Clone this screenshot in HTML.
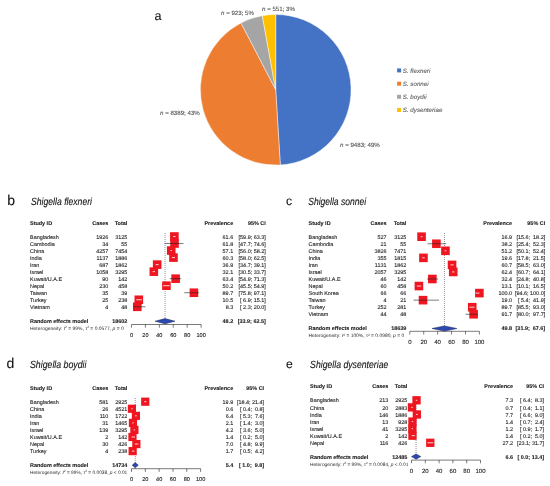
<!DOCTYPE html>
<html><head><meta charset="utf-8"><title>Shigella species prevalence</title>
<style>
html,body{margin:0;padding:0;background:#fff;}
svg{display:block;font-family:"Liberation Sans",sans-serif;text-rendering:geometricPrecision;}
</style></head><body>
<svg width="550" height="486" viewBox="0 0 550 486">
<rect width="550" height="486" fill="#fff"/>
<path d="M275.7 89.8L275.70 14.50A75.3 75.3 0 0 1 280.34 164.96Z" fill="#4472c4" stroke="#fff" stroke-width="0.45" stroke-linejoin="round"/>
<path d="M275.7 89.8L280.34 164.96A75.3 75.3 0 0 1 241.01 22.97Z" fill="#ed7d31" stroke="#fff" stroke-width="0.45" stroke-linejoin="round"/>
<path d="M275.7 89.8L241.01 22.97A75.3 75.3 0 0 1 262.30 15.70Z" fill="#a5a5a5" stroke="#fff" stroke-width="0.45" stroke-linejoin="round"/>
<path d="M275.7 89.8L262.30 15.70A75.3 75.3 0 0 1 275.70 14.50Z" fill="#ffc000" stroke="#fff" stroke-width="0.45" stroke-linejoin="round"/>
<text x="154.40" y="20.40" font-size="12.6" text-anchor="start" font-weight="normal" font-style="normal" fill="#111" stroke="#111" stroke-width="0.1">a</text>
<text x="340" y="147" font-size="6.15" fill="#505050" stroke="#505050" stroke-width="0.1"><tspan font-style="italic">n</tspan> = 9483; 49%</text>
<text x="160" y="115.4" font-size="6.15" fill="#505050" stroke="#505050" stroke-width="0.1"><tspan font-style="italic">n</tspan> = 8389; 43%</text>
<text x="221" y="15" font-size="6.15" fill="#505050" stroke="#505050" stroke-width="0.1"><tspan font-style="italic">n</tspan> = 923; 5%</text>
<text x="262" y="10.6" font-size="6.15" fill="#505050" stroke="#505050" stroke-width="0.1"><tspan font-style="italic">n</tspan> = 551; 3%</text>
<rect x="397.1" y="68.4" width="4" height="4" fill="#4472c4"/>
<text x="402.80" y="72.50" font-size="6.2" text-anchor="start" font-weight="normal" font-style="italic" fill="#606060" stroke="#606060" stroke-width="0.1">S. flexneri</text>
<rect x="397.1" y="81.7" width="4" height="4" fill="#ed7d31"/>
<text x="402.80" y="85.80" font-size="6.2" text-anchor="start" font-weight="normal" font-style="italic" fill="#606060" stroke="#606060" stroke-width="0.1">S. sonnei</text>
<rect x="397.1" y="94.8" width="4" height="4" fill="#a5a5a5"/>
<text x="402.80" y="98.90" font-size="6.2" text-anchor="start" font-weight="normal" font-style="italic" fill="#606060" stroke="#606060" stroke-width="0.1">S. boydii</text>
<rect x="397.1" y="108" width="4" height="4" fill="#ffc000"/>
<text x="402.80" y="112.10" font-size="6.2" text-anchor="start" font-weight="normal" font-style="italic" fill="#606060" stroke="#606060" stroke-width="0.1">S. dysenteriae</text>
<text x="7.30" y="205.10" font-size="14" text-anchor="start" font-weight="normal" font-style="normal" fill="#111" stroke="#111" stroke-width="0.1">b</text>
<text x="31.00" y="205.10" font-size="10.4" text-anchor="start" font-weight="normal" font-style="italic" fill="#111" stroke="#111" stroke-width="0.1" textLength="61" lengthAdjust="spacingAndGlyphs">Shigella flexneri</text>
<text x="30.00" y="224.96" font-size="5.45" text-anchor="start" font-weight="bold" font-style="normal" fill="#222" stroke="#222" stroke-width="0.1">Study ID</text>
<text x="108.30" y="224.96" font-size="5.45" text-anchor="end" font-weight="bold" font-style="normal" fill="#222" stroke="#222" stroke-width="0.1">Cases</text>
<text x="127.30" y="224.96" font-size="5.45" text-anchor="end" font-weight="bold" font-style="normal" fill="#222" stroke="#222" stroke-width="0.1">Total</text>
<text x="233.20" y="224.96" font-size="5.45" text-anchor="end" font-weight="bold" font-style="normal" fill="#222" stroke="#222" stroke-width="0.1">Prevalence</text>
<text x="265.80" y="224.96" font-size="5.45" text-anchor="end" font-weight="bold" font-style="normal" fill="#222" stroke="#222" stroke-width="0.1">95% CI</text>
<line x1="165.05" y1="233.00" x2="165.05" y2="324.50" stroke="#666" stroke-width="0.7" stroke-dasharray="1 1"/>
<text x="30.00" y="238.86" font-size="5.45" text-anchor="start" font-weight="normal" font-style="normal" fill="#222" stroke="#222" stroke-width="0.1">Bangladesh</text>
<text x="108.30" y="238.86" font-size="5.45" text-anchor="end" font-weight="normal" font-style="normal" fill="#222" stroke="#222" stroke-width="0.1">1926</text>
<text x="127.30" y="238.86" font-size="5.45" text-anchor="end" font-weight="normal" font-style="normal" fill="#222" stroke="#222" stroke-width="0.1">3125</text>
<text x="233.20" y="238.86" font-size="5.45" text-anchor="end" font-weight="normal" font-style="normal" fill="#222" stroke="#222" stroke-width="0.1">61.6</text>
<text x="265.80" y="238.86" font-size="5.45" text-anchor="end" font-weight="normal" font-style="normal" fill="#222" stroke="#222" stroke-width="0.1" xml:space="preserve">[59.9; 63.3]</text>
<rect x="170.07" y="232.20" width="8.6" height="8.6" fill="#ee1620"/>
<line x1="173.19" y1="236.50" x2="175.56" y2="236.50" stroke="#fff" stroke-width="0.8"/>
<text x="30.00" y="245.89" font-size="5.45" text-anchor="start" font-weight="normal" font-style="normal" fill="#222" stroke="#222" stroke-width="0.1">Cambodia</text>
<text x="108.30" y="245.89" font-size="5.45" text-anchor="end" font-weight="normal" font-style="normal" fill="#222" stroke="#222" stroke-width="0.1">34</text>
<text x="127.30" y="245.89" font-size="5.45" text-anchor="end" font-weight="normal" font-style="normal" fill="#222" stroke="#222" stroke-width="0.1">55</text>
<text x="233.20" y="245.89" font-size="5.45" text-anchor="end" font-weight="normal" font-style="normal" fill="#222" stroke="#222" stroke-width="0.1">61.8</text>
<text x="265.80" y="245.89" font-size="5.45" text-anchor="end" font-weight="normal" font-style="normal" fill="#222" stroke="#222" stroke-width="0.1" xml:space="preserve">[47.7; 74.6]</text>
<rect x="170.21" y="239.23" width="8.6" height="8.6" fill="#ee1620"/>
<line x1="164.70" y1="243.53" x2="183.42" y2="243.53" stroke="#222" stroke-width="0.6"/>
<text x="30.00" y="252.92" font-size="5.45" text-anchor="start" font-weight="normal" font-style="normal" fill="#222" stroke="#222" stroke-width="0.1">China</text>
<text x="108.30" y="252.92" font-size="5.45" text-anchor="end" font-weight="normal" font-style="normal" fill="#222" stroke="#222" stroke-width="0.1">4257</text>
<text x="127.30" y="252.92" font-size="5.45" text-anchor="end" font-weight="normal" font-style="normal" fill="#222" stroke="#222" stroke-width="0.1">7454</text>
<text x="233.20" y="252.92" font-size="5.45" text-anchor="end" font-weight="normal" font-style="normal" fill="#222" stroke="#222" stroke-width="0.1">57.1</text>
<text x="265.80" y="252.92" font-size="5.45" text-anchor="end" font-weight="normal" font-style="normal" fill="#222" stroke="#222" stroke-width="0.1" xml:space="preserve">[56.0; 58.2]</text>
<rect x="166.94" y="246.26" width="8.6" height="8.6" fill="#ee1620"/>
<line x1="170.48" y1="250.56" x2="172.01" y2="250.56" stroke="#fff" stroke-width="0.8"/>
<text x="30.00" y="259.95" font-size="5.45" text-anchor="start" font-weight="normal" font-style="normal" fill="#222" stroke="#222" stroke-width="0.1">India</text>
<text x="108.30" y="259.95" font-size="5.45" text-anchor="end" font-weight="normal" font-style="normal" fill="#222" stroke="#222" stroke-width="0.1">1137</text>
<text x="127.30" y="259.95" font-size="5.45" text-anchor="end" font-weight="normal" font-style="normal" fill="#222" stroke="#222" stroke-width="0.1">1886</text>
<text x="233.20" y="259.95" font-size="5.45" text-anchor="end" font-weight="normal" font-style="normal" fill="#222" stroke="#222" stroke-width="0.1">60.3</text>
<text x="265.80" y="259.95" font-size="5.45" text-anchor="end" font-weight="normal" font-style="normal" fill="#222" stroke="#222" stroke-width="0.1" xml:space="preserve">[58.0; 62.5]</text>
<rect x="169.17" y="253.29" width="8.6" height="8.6" fill="#ee1620"/>
<line x1="171.87" y1="257.59" x2="175.00" y2="257.59" stroke="#fff" stroke-width="0.8"/>
<text x="30.00" y="266.98" font-size="5.45" text-anchor="start" font-weight="normal" font-style="normal" fill="#222" stroke="#222" stroke-width="0.1">Iran</text>
<text x="108.30" y="266.98" font-size="5.45" text-anchor="end" font-weight="normal" font-style="normal" fill="#222" stroke="#222" stroke-width="0.1">687</text>
<text x="127.30" y="266.98" font-size="5.45" text-anchor="end" font-weight="normal" font-style="normal" fill="#222" stroke="#222" stroke-width="0.1">1862</text>
<text x="233.20" y="266.98" font-size="5.45" text-anchor="end" font-weight="normal" font-style="normal" fill="#222" stroke="#222" stroke-width="0.1">36.9</text>
<text x="265.80" y="266.98" font-size="5.45" text-anchor="end" font-weight="normal" font-style="normal" fill="#222" stroke="#222" stroke-width="0.1" xml:space="preserve">[34.7; 39.1]</text>
<rect x="152.88" y="260.32" width="8.6" height="8.6" fill="#ee1620"/>
<line x1="155.65" y1="264.62" x2="158.71" y2="264.62" stroke="#fff" stroke-width="0.8"/>
<text x="30.00" y="274.01" font-size="5.45" text-anchor="start" font-weight="normal" font-style="normal" fill="#222" stroke="#222" stroke-width="0.1">Israel</text>
<text x="108.30" y="274.01" font-size="5.45" text-anchor="end" font-weight="normal" font-style="normal" fill="#222" stroke="#222" stroke-width="0.1">1058</text>
<text x="127.30" y="274.01" font-size="5.45" text-anchor="end" font-weight="normal" font-style="normal" fill="#222" stroke="#222" stroke-width="0.1">3295</text>
<text x="233.20" y="274.01" font-size="5.45" text-anchor="end" font-weight="normal" font-style="normal" fill="#222" stroke="#222" stroke-width="0.1">32.1</text>
<text x="265.80" y="274.01" font-size="5.45" text-anchor="end" font-weight="normal" font-style="normal" fill="#222" stroke="#222" stroke-width="0.1" xml:space="preserve">[30.5; 33.7]</text>
<rect x="149.54" y="267.35" width="8.6" height="8.6" fill="#ee1620"/>
<line x1="152.73" y1="271.65" x2="154.96" y2="271.65" stroke="#fff" stroke-width="0.8"/>
<text x="30.00" y="281.04" font-size="5.45" text-anchor="start" font-weight="normal" font-style="normal" fill="#222" stroke="#222" stroke-width="0.1">Kuwait/U.A.E</text>
<text x="108.30" y="281.04" font-size="5.45" text-anchor="end" font-weight="normal" font-style="normal" fill="#222" stroke="#222" stroke-width="0.1">90</text>
<text x="127.30" y="281.04" font-size="5.45" text-anchor="end" font-weight="normal" font-style="normal" fill="#222" stroke="#222" stroke-width="0.1">142</text>
<text x="233.20" y="281.04" font-size="5.45" text-anchor="end" font-weight="normal" font-style="normal" fill="#222" stroke="#222" stroke-width="0.1">63.4</text>
<text x="265.80" y="281.04" font-size="5.45" text-anchor="end" font-weight="normal" font-style="normal" fill="#222" stroke="#222" stroke-width="0.1" xml:space="preserve">[54.9; 71.3]</text>
<rect x="171.33" y="274.38" width="8.6" height="8.6" fill="#ee1620"/>
<line x1="169.71" y1="278.68" x2="181.12" y2="278.68" stroke="#222" stroke-width="0.6"/>
<text x="30.00" y="288.07" font-size="5.45" text-anchor="start" font-weight="normal" font-style="normal" fill="#222" stroke="#222" stroke-width="0.1">Nepal</text>
<text x="108.30" y="288.07" font-size="5.45" text-anchor="end" font-weight="normal" font-style="normal" fill="#222" stroke="#222" stroke-width="0.1">230</text>
<text x="127.30" y="288.07" font-size="5.45" text-anchor="end" font-weight="normal" font-style="normal" fill="#222" stroke="#222" stroke-width="0.1">458</text>
<text x="233.20" y="288.07" font-size="5.45" text-anchor="end" font-weight="normal" font-style="normal" fill="#222" stroke="#222" stroke-width="0.1">50.2</text>
<text x="265.80" y="288.07" font-size="5.45" text-anchor="end" font-weight="normal" font-style="normal" fill="#222" stroke="#222" stroke-width="0.1" xml:space="preserve">[45.5; 54.9]</text>
<rect x="162.14" y="281.41" width="8.6" height="8.6" fill="#ee1620"/>
<line x1="163.17" y1="285.71" x2="169.71" y2="285.71" stroke="#fff" stroke-width="0.8"/>
<text x="30.00" y="295.10" font-size="5.45" text-anchor="start" font-weight="normal" font-style="normal" fill="#222" stroke="#222" stroke-width="0.1">Taiwan</text>
<text x="108.30" y="295.10" font-size="5.45" text-anchor="end" font-weight="normal" font-style="normal" fill="#222" stroke="#222" stroke-width="0.1">35</text>
<text x="127.30" y="295.10" font-size="5.45" text-anchor="end" font-weight="normal" font-style="normal" fill="#222" stroke="#222" stroke-width="0.1">39</text>
<text x="233.20" y="295.10" font-size="5.45" text-anchor="end" font-weight="normal" font-style="normal" fill="#222" stroke="#222" stroke-width="0.1">89.7</text>
<text x="265.80" y="295.10" font-size="5.45" text-anchor="end" font-weight="normal" font-style="normal" fill="#222" stroke="#222" stroke-width="0.1" xml:space="preserve">[75.8; 97.1]</text>
<rect x="189.63" y="288.44" width="8.6" height="8.6" fill="#ee1620"/>
<line x1="184.26" y1="292.74" x2="199.08" y2="292.74" stroke="#222" stroke-width="0.6"/>
<text x="30.00" y="302.13" font-size="5.45" text-anchor="start" font-weight="normal" font-style="normal" fill="#222" stroke="#222" stroke-width="0.1">Turkey</text>
<text x="108.30" y="302.13" font-size="5.45" text-anchor="end" font-weight="normal" font-style="normal" fill="#222" stroke="#222" stroke-width="0.1">25</text>
<text x="127.30" y="302.13" font-size="5.45" text-anchor="end" font-weight="normal" font-style="normal" fill="#222" stroke="#222" stroke-width="0.1">238</text>
<text x="233.20" y="302.13" font-size="5.45" text-anchor="end" font-weight="normal" font-style="normal" fill="#222" stroke="#222" stroke-width="0.1">10.5</text>
<text x="265.80" y="302.13" font-size="5.45" text-anchor="end" font-weight="normal" font-style="normal" fill="#222" stroke="#222" stroke-width="0.1" xml:space="preserve">[ 6.9; 15.1]</text>
<rect x="134.51" y="295.47" width="8.6" height="8.6" fill="#ee1620"/>
<line x1="136.30" y1="299.77" x2="142.01" y2="299.77" stroke="#fff" stroke-width="0.8"/>
<text x="30.00" y="309.16" font-size="5.45" text-anchor="start" font-weight="normal" font-style="normal" fill="#222" stroke="#222" stroke-width="0.1">Vietnam</text>
<text x="108.30" y="309.16" font-size="5.45" text-anchor="end" font-weight="normal" font-style="normal" fill="#222" stroke="#222" stroke-width="0.1">4</text>
<text x="127.30" y="309.16" font-size="5.45" text-anchor="end" font-weight="normal" font-style="normal" fill="#222" stroke="#222" stroke-width="0.1">48</text>
<text x="233.20" y="309.16" font-size="5.45" text-anchor="end" font-weight="normal" font-style="normal" fill="#222" stroke="#222" stroke-width="0.1">8.3</text>
<text x="265.80" y="309.16" font-size="5.45" text-anchor="end" font-weight="normal" font-style="normal" fill="#222" stroke="#222" stroke-width="0.1" xml:space="preserve">[ 2.3; 20.0]</text>
<rect x="132.98" y="302.50" width="8.6" height="8.6" fill="#ee1620"/>
<line x1="133.10" y1="306.80" x2="145.42" y2="306.80" stroke="#222" stroke-width="0.6"/>
<polygon points="155.09,321.20 165.05,318.60 175.00,321.20 165.05,323.80" fill="#2b49ae" stroke="#16225c" stroke-width="0.5"/>
<text x="30.00" y="323.16" font-size="5.45" text-anchor="start" font-weight="bold" font-style="normal" fill="#222" stroke="#222" stroke-width="0.1">Random effects model</text>
<text x="127.30" y="323.16" font-size="5.45" text-anchor="end" font-weight="bold" font-style="normal" fill="#222" stroke="#222" stroke-width="0.1">18602</text>
<text x="233.20" y="323.16" font-size="5.45" text-anchor="end" font-weight="bold" font-style="normal" fill="#222" stroke="#222" stroke-width="0.1">48.2</text>
<text x="265.80" y="323.16" font-size="5.45" text-anchor="end" font-weight="bold" font-style="normal" fill="#222" stroke="#222" stroke-width="0.1" xml:space="preserve">[33.9; 62.5]</text>
<text x="30.00" y="329.96" font-size="4.9" fill="#2c2c2c" textLength="93.8" lengthAdjust="spacingAndGlyphs">Heterogeneity: <tspan font-style="italic">I</tspan><tspan font-size="3.2" dy="-1.6">2</tspan><tspan dy="1.6"> = 99%, τ</tspan><tspan font-size="3.2" dy="-1.6">2</tspan><tspan dy="1.6"> = 0.0577, </tspan><tspan font-style="italic">p</tspan> = 0</text>
<path d="M131.50 327.70V324.50H201.10V327.70" fill="none" stroke="#222" stroke-width="0.6"/>
<text x="131.50" y="337.02" font-size="5.6" text-anchor="middle" font-weight="normal" font-style="normal" fill="#222" stroke="#222" stroke-width="0.1">0</text>
<line x1="145.42" y1="324.50" x2="145.42" y2="327.70" stroke="#222" stroke-width="0.6"/>
<text x="145.42" y="337.02" font-size="5.6" text-anchor="middle" font-weight="normal" font-style="normal" fill="#222" stroke="#222" stroke-width="0.1">20</text>
<line x1="159.34" y1="324.50" x2="159.34" y2="327.70" stroke="#222" stroke-width="0.6"/>
<text x="159.34" y="337.02" font-size="5.6" text-anchor="middle" font-weight="normal" font-style="normal" fill="#222" stroke="#222" stroke-width="0.1">40</text>
<line x1="173.26" y1="324.50" x2="173.26" y2="327.70" stroke="#222" stroke-width="0.6"/>
<text x="173.26" y="337.02" font-size="5.6" text-anchor="middle" font-weight="normal" font-style="normal" fill="#222" stroke="#222" stroke-width="0.1">60</text>
<line x1="187.18" y1="324.50" x2="187.18" y2="327.70" stroke="#222" stroke-width="0.6"/>
<text x="187.18" y="337.02" font-size="5.6" text-anchor="middle" font-weight="normal" font-style="normal" fill="#222" stroke="#222" stroke-width="0.1">80</text>
<text x="201.10" y="337.02" font-size="5.6" text-anchor="middle" font-weight="normal" font-style="normal" fill="#222" stroke="#222" stroke-width="0.1">100</text>
<text x="286.00" y="205.10" font-size="12.2" text-anchor="start" font-weight="normal" font-style="normal" fill="#111" stroke="#111" stroke-width="0.1">c</text>
<text x="308.20" y="205.10" font-size="10.4" text-anchor="start" font-weight="normal" font-style="italic" fill="#111" stroke="#111" stroke-width="0.1" textLength="58" lengthAdjust="spacingAndGlyphs">Shigella sonnei</text>
<text x="308.50" y="224.96" font-size="5.45" text-anchor="start" font-weight="bold" font-style="normal" fill="#222" stroke="#222" stroke-width="0.1">Study ID</text>
<text x="386.50" y="224.96" font-size="5.45" text-anchor="end" font-weight="bold" font-style="normal" fill="#222" stroke="#222" stroke-width="0.1">Cases</text>
<text x="406.30" y="224.96" font-size="5.45" text-anchor="end" font-weight="bold" font-style="normal" fill="#222" stroke="#222" stroke-width="0.1">Total</text>
<text x="512.00" y="224.96" font-size="5.45" text-anchor="end" font-weight="bold" font-style="normal" fill="#222" stroke="#222" stroke-width="0.1">Prevalence</text>
<text x="545.20" y="224.96" font-size="5.45" text-anchor="end" font-weight="bold" font-style="normal" fill="#222" stroke="#222" stroke-width="0.1">95% CI</text>
<line x1="444.46" y1="233.00" x2="444.46" y2="331.30" stroke="#666" stroke-width="0.7" stroke-dasharray="1 1"/>
<text x="308.50" y="238.86" font-size="5.45" text-anchor="start" font-weight="normal" font-style="normal" fill="#222" stroke="#222" stroke-width="0.1">Bangladesh</text>
<text x="386.50" y="238.86" font-size="5.45" text-anchor="end" font-weight="normal" font-style="normal" fill="#222" stroke="#222" stroke-width="0.1">527</text>
<text x="406.30" y="238.86" font-size="5.45" text-anchor="end" font-weight="normal" font-style="normal" fill="#222" stroke="#222" stroke-width="0.1">3125</text>
<text x="512.00" y="238.86" font-size="5.45" text-anchor="end" font-weight="normal" font-style="normal" fill="#222" stroke="#222" stroke-width="0.1">16.9</text>
<text x="545.20" y="238.86" font-size="5.45" text-anchor="end" font-weight="normal" font-style="normal" fill="#222" stroke="#222" stroke-width="0.1" xml:space="preserve">[15.6;  18.2]</text>
<rect x="417.26" y="232.40" width="8.6" height="8.6" fill="#ee1620"/>
<line x1="420.66" y1="236.70" x2="422.47" y2="236.70" stroke="#fff" stroke-width="0.8"/>
<text x="308.50" y="245.91" font-size="5.45" text-anchor="start" font-weight="normal" font-style="normal" fill="#222" stroke="#222" stroke-width="0.1">Cambodia</text>
<text x="386.50" y="245.91" font-size="5.45" text-anchor="end" font-weight="normal" font-style="normal" fill="#222" stroke="#222" stroke-width="0.1">21</text>
<text x="406.30" y="245.91" font-size="5.45" text-anchor="end" font-weight="normal" font-style="normal" fill="#222" stroke="#222" stroke-width="0.1">55</text>
<text x="512.00" y="245.91" font-size="5.45" text-anchor="end" font-weight="normal" font-style="normal" fill="#222" stroke="#222" stroke-width="0.1">38.2</text>
<text x="545.20" y="245.91" font-size="5.45" text-anchor="end" font-weight="normal" font-style="normal" fill="#222" stroke="#222" stroke-width="0.1" xml:space="preserve">[25.4;  52.3]</text>
<rect x="432.09" y="239.45" width="8.6" height="8.6" fill="#ee1620"/>
<line x1="427.48" y1="243.75" x2="446.20" y2="243.75" stroke="#222" stroke-width="0.6"/>
<text x="308.50" y="252.96" font-size="5.45" text-anchor="start" font-weight="normal" font-style="normal" fill="#222" stroke="#222" stroke-width="0.1">China</text>
<text x="386.50" y="252.96" font-size="5.45" text-anchor="end" font-weight="normal" font-style="normal" fill="#222" stroke="#222" stroke-width="0.1">3826</text>
<text x="406.30" y="252.96" font-size="5.45" text-anchor="end" font-weight="normal" font-style="normal" fill="#222" stroke="#222" stroke-width="0.1">7471</text>
<text x="512.00" y="252.96" font-size="5.45" text-anchor="end" font-weight="normal" font-style="normal" fill="#222" stroke="#222" stroke-width="0.1">51.2</text>
<text x="545.20" y="252.96" font-size="5.45" text-anchor="end" font-weight="normal" font-style="normal" fill="#222" stroke="#222" stroke-width="0.1" xml:space="preserve">[50.1;  52.4]</text>
<rect x="441.14" y="246.50" width="8.6" height="8.6" fill="#ee1620"/>
<line x1="444.67" y1="250.80" x2="446.27" y2="250.80" stroke="#fff" stroke-width="0.8"/>
<text x="308.50" y="260.01" font-size="5.45" text-anchor="start" font-weight="normal" font-style="normal" fill="#222" stroke="#222" stroke-width="0.1">India</text>
<text x="386.50" y="260.01" font-size="5.45" text-anchor="end" font-weight="normal" font-style="normal" fill="#222" stroke="#222" stroke-width="0.1">355</text>
<text x="406.30" y="260.01" font-size="5.45" text-anchor="end" font-weight="normal" font-style="normal" fill="#222" stroke="#222" stroke-width="0.1">1815</text>
<text x="512.00" y="260.01" font-size="5.45" text-anchor="end" font-weight="normal" font-style="normal" fill="#222" stroke="#222" stroke-width="0.1">19.6</text>
<text x="545.20" y="260.01" font-size="5.45" text-anchor="end" font-weight="normal" font-style="normal" fill="#222" stroke="#222" stroke-width="0.1" xml:space="preserve">[17.8;  21.5]</text>
<rect x="419.14" y="253.55" width="8.6" height="8.6" fill="#ee1620"/>
<line x1="422.19" y1="257.85" x2="424.76" y2="257.85" stroke="#fff" stroke-width="0.8"/>
<text x="308.50" y="267.06" font-size="5.45" text-anchor="start" font-weight="normal" font-style="normal" fill="#222" stroke="#222" stroke-width="0.1">Iran</text>
<text x="386.50" y="267.06" font-size="5.45" text-anchor="end" font-weight="normal" font-style="normal" fill="#222" stroke="#222" stroke-width="0.1">1131</text>
<text x="406.30" y="267.06" font-size="5.45" text-anchor="end" font-weight="normal" font-style="normal" fill="#222" stroke="#222" stroke-width="0.1">1862</text>
<text x="512.00" y="267.06" font-size="5.45" text-anchor="end" font-weight="normal" font-style="normal" fill="#222" stroke="#222" stroke-width="0.1">60.7</text>
<text x="545.20" y="267.06" font-size="5.45" text-anchor="end" font-weight="normal" font-style="normal" fill="#222" stroke="#222" stroke-width="0.1" xml:space="preserve">[58.5;  63.0]</text>
<rect x="447.75" y="260.60" width="8.6" height="8.6" fill="#ee1620"/>
<line x1="450.52" y1="264.90" x2="453.65" y2="264.90" stroke="#fff" stroke-width="0.8"/>
<text x="308.50" y="274.11" font-size="5.45" text-anchor="start" font-weight="normal" font-style="normal" fill="#222" stroke="#222" stroke-width="0.1">Israel</text>
<text x="386.50" y="274.11" font-size="5.45" text-anchor="end" font-weight="normal" font-style="normal" fill="#222" stroke="#222" stroke-width="0.1">2057</text>
<text x="406.30" y="274.11" font-size="5.45" text-anchor="end" font-weight="normal" font-style="normal" fill="#222" stroke="#222" stroke-width="0.1">3295</text>
<text x="512.00" y="274.11" font-size="5.45" text-anchor="end" font-weight="normal" font-style="normal" fill="#222" stroke="#222" stroke-width="0.1">62.4</text>
<text x="545.20" y="274.11" font-size="5.45" text-anchor="end" font-weight="normal" font-style="normal" fill="#222" stroke="#222" stroke-width="0.1" xml:space="preserve">[60.7;  64.1]</text>
<rect x="448.93" y="267.65" width="8.6" height="8.6" fill="#ee1620"/>
<line x1="452.05" y1="271.95" x2="454.41" y2="271.95" stroke="#fff" stroke-width="0.8"/>
<text x="308.50" y="281.16" font-size="5.45" text-anchor="start" font-weight="normal" font-style="normal" fill="#222" stroke="#222" stroke-width="0.1">Kuwait/U.A.E</text>
<text x="386.50" y="281.16" font-size="5.45" text-anchor="end" font-weight="normal" font-style="normal" fill="#222" stroke="#222" stroke-width="0.1">46</text>
<text x="406.30" y="281.16" font-size="5.45" text-anchor="end" font-weight="normal" font-style="normal" fill="#222" stroke="#222" stroke-width="0.1">142</text>
<text x="512.00" y="281.16" font-size="5.45" text-anchor="end" font-weight="normal" font-style="normal" fill="#222" stroke="#222" stroke-width="0.1">32.4</text>
<text x="545.20" y="281.16" font-size="5.45" text-anchor="end" font-weight="normal" font-style="normal" fill="#222" stroke="#222" stroke-width="0.1" xml:space="preserve">[24.8;  40.8]</text>
<rect x="428.05" y="274.70" width="8.6" height="8.6" fill="#ee1620"/>
<line x1="427.06" y1="279.00" x2="438.20" y2="279.00" stroke="#222" stroke-width="0.6"/>
<text x="308.50" y="288.21" font-size="5.45" text-anchor="start" font-weight="normal" font-style="normal" fill="#222" stroke="#222" stroke-width="0.1">Nepal</text>
<text x="386.50" y="288.21" font-size="5.45" text-anchor="end" font-weight="normal" font-style="normal" fill="#222" stroke="#222" stroke-width="0.1">60</text>
<text x="406.30" y="288.21" font-size="5.45" text-anchor="end" font-weight="normal" font-style="normal" fill="#222" stroke="#222" stroke-width="0.1">458</text>
<text x="512.00" y="288.21" font-size="5.45" text-anchor="end" font-weight="normal" font-style="normal" fill="#222" stroke="#222" stroke-width="0.1">13.1</text>
<text x="545.20" y="288.21" font-size="5.45" text-anchor="end" font-weight="normal" font-style="normal" fill="#222" stroke="#222" stroke-width="0.1" xml:space="preserve">[10.1;  16.5]</text>
<rect x="414.62" y="281.75" width="8.6" height="8.6" fill="#ee1620"/>
<line x1="416.83" y1="286.05" x2="421.28" y2="286.05" stroke="#fff" stroke-width="0.8"/>
<text x="308.50" y="295.26" font-size="5.45" text-anchor="start" font-weight="normal" font-style="normal" fill="#222" stroke="#222" stroke-width="0.1">South Korea</text>
<text x="386.50" y="295.26" font-size="5.45" text-anchor="end" font-weight="normal" font-style="normal" fill="#222" stroke="#222" stroke-width="0.1">66</text>
<text x="406.30" y="295.26" font-size="5.45" text-anchor="end" font-weight="normal" font-style="normal" fill="#222" stroke="#222" stroke-width="0.1">66</text>
<text x="512.00" y="295.26" font-size="5.45" text-anchor="end" font-weight="normal" font-style="normal" fill="#222" stroke="#222" stroke-width="0.1">100.0</text>
<text x="545.20" y="295.26" font-size="5.45" text-anchor="end" font-weight="normal" font-style="normal" fill="#222" stroke="#222" stroke-width="0.1" xml:space="preserve">[94.6; 100.0]</text>
<rect x="475.10" y="288.80" width="8.6" height="8.6" fill="#ee1620"/>
<line x1="475.64" y1="293.10" x2="479.40" y2="293.10" stroke="#fff" stroke-width="0.8"/>
<text x="308.50" y="302.31" font-size="5.45" text-anchor="start" font-weight="normal" font-style="normal" fill="#222" stroke="#222" stroke-width="0.1">Taiwan</text>
<text x="386.50" y="302.31" font-size="5.45" text-anchor="end" font-weight="normal" font-style="normal" fill="#222" stroke="#222" stroke-width="0.1">4</text>
<text x="406.30" y="302.31" font-size="5.45" text-anchor="end" font-weight="normal" font-style="normal" fill="#222" stroke="#222" stroke-width="0.1">21</text>
<text x="512.00" y="302.31" font-size="5.45" text-anchor="end" font-weight="normal" font-style="normal" fill="#222" stroke="#222" stroke-width="0.1">19.0</text>
<text x="545.20" y="302.31" font-size="5.45" text-anchor="end" font-weight="normal" font-style="normal" fill="#222" stroke="#222" stroke-width="0.1" xml:space="preserve">[ 5.4;  41.9]</text>
<rect x="418.72" y="295.85" width="8.6" height="8.6" fill="#ee1620"/>
<line x1="413.56" y1="300.15" x2="438.96" y2="300.15" stroke="#222" stroke-width="0.6"/>
<text x="308.50" y="309.36" font-size="5.45" text-anchor="start" font-weight="normal" font-style="normal" fill="#222" stroke="#222" stroke-width="0.1">Turkey</text>
<text x="386.50" y="309.36" font-size="5.45" text-anchor="end" font-weight="normal" font-style="normal" fill="#222" stroke="#222" stroke-width="0.1">252</text>
<text x="406.30" y="309.36" font-size="5.45" text-anchor="end" font-weight="normal" font-style="normal" fill="#222" stroke="#222" stroke-width="0.1">281</text>
<text x="512.00" y="309.36" font-size="5.45" text-anchor="end" font-weight="normal" font-style="normal" fill="#222" stroke="#222" stroke-width="0.1">89.7</text>
<text x="545.20" y="309.36" font-size="5.45" text-anchor="end" font-weight="normal" font-style="normal" fill="#222" stroke="#222" stroke-width="0.1" xml:space="preserve">[85.5;  93.0]</text>
<rect x="467.93" y="302.90" width="8.6" height="8.6" fill="#ee1620"/>
<line x1="469.31" y1="307.20" x2="474.53" y2="307.20" stroke="#fff" stroke-width="0.8"/>
<text x="308.50" y="316.41" font-size="5.45" text-anchor="start" font-weight="normal" font-style="normal" fill="#222" stroke="#222" stroke-width="0.1">Vietnam</text>
<text x="386.50" y="316.41" font-size="5.45" text-anchor="end" font-weight="normal" font-style="normal" fill="#222" stroke="#222" stroke-width="0.1">44</text>
<text x="406.30" y="316.41" font-size="5.45" text-anchor="end" font-weight="normal" font-style="normal" fill="#222" stroke="#222" stroke-width="0.1">48</text>
<text x="512.00" y="316.41" font-size="5.45" text-anchor="end" font-weight="normal" font-style="normal" fill="#222" stroke="#222" stroke-width="0.1">91.7</text>
<text x="545.20" y="316.41" font-size="5.45" text-anchor="end" font-weight="normal" font-style="normal" fill="#222" stroke="#222" stroke-width="0.1" xml:space="preserve">[80.0;  97.7]</text>
<rect x="469.32" y="309.95" width="8.6" height="8.6" fill="#ee1620"/>
<line x1="465.48" y1="314.25" x2="477.80" y2="314.25" stroke="#222" stroke-width="0.6"/>
<polygon points="432.00,328.50 444.46,325.90 456.85,328.50 444.46,331.10" fill="#2b49ae" stroke="#16225c" stroke-width="0.5"/>
<text x="308.50" y="330.46" font-size="5.45" text-anchor="start" font-weight="bold" font-style="normal" fill="#222" stroke="#222" stroke-width="0.1">Random effects model</text>
<text x="406.30" y="330.46" font-size="5.45" text-anchor="end" font-weight="bold" font-style="normal" fill="#222" stroke="#222" stroke-width="0.1">18639</text>
<text x="512.00" y="330.46" font-size="5.45" text-anchor="end" font-weight="bold" font-style="normal" fill="#222" stroke="#222" stroke-width="0.1">49.8</text>
<text x="545.20" y="330.46" font-size="5.45" text-anchor="end" font-weight="bold" font-style="normal" fill="#222" stroke="#222" stroke-width="0.1" xml:space="preserve">[31.9;  67.6]</text>
<text x="308.50" y="337.16" font-size="4.9" fill="#2c2c2c" textLength="95.7" lengthAdjust="spacingAndGlyphs">Heterogeneity: <tspan font-style="italic">I</tspan><tspan font-size="3.2" dy="-1.6">2</tspan><tspan dy="1.6"> = 100%, τ</tspan><tspan font-size="3.2" dy="-1.6">2</tspan><tspan dy="1.6"> = 0.0980, </tspan><tspan font-style="italic">p</tspan> = 0</text>
<path d="M409.80 334.50V331.30H479.40V334.50" fill="none" stroke="#222" stroke-width="0.6"/>
<text x="409.80" y="344.16" font-size="6.0" text-anchor="middle" font-weight="normal" font-style="normal" fill="#222" stroke="#222" stroke-width="0.1">0</text>
<line x1="423.72" y1="331.30" x2="423.72" y2="334.50" stroke="#222" stroke-width="0.6"/>
<text x="423.72" y="344.16" font-size="6.0" text-anchor="middle" font-weight="normal" font-style="normal" fill="#222" stroke="#222" stroke-width="0.1">20</text>
<line x1="437.64" y1="331.30" x2="437.64" y2="334.50" stroke="#222" stroke-width="0.6"/>
<text x="437.64" y="344.16" font-size="6.0" text-anchor="middle" font-weight="normal" font-style="normal" fill="#222" stroke="#222" stroke-width="0.1">40</text>
<line x1="451.56" y1="331.30" x2="451.56" y2="334.50" stroke="#222" stroke-width="0.6"/>
<text x="451.56" y="344.16" font-size="6.0" text-anchor="middle" font-weight="normal" font-style="normal" fill="#222" stroke="#222" stroke-width="0.1">60</text>
<line x1="465.48" y1="331.30" x2="465.48" y2="334.50" stroke="#222" stroke-width="0.6"/>
<text x="465.48" y="344.16" font-size="6.0" text-anchor="middle" font-weight="normal" font-style="normal" fill="#222" stroke="#222" stroke-width="0.1">80</text>
<text x="479.40" y="344.16" font-size="6.0" text-anchor="middle" font-weight="normal" font-style="normal" fill="#222" stroke="#222" stroke-width="0.1">100</text>
<text x="6.60" y="368.00" font-size="14" text-anchor="start" font-weight="normal" font-style="normal" fill="#111" stroke="#111" stroke-width="0.1">d</text>
<text x="30.00" y="368.00" font-size="10.4" text-anchor="start" font-weight="normal" font-style="italic" fill="#111" stroke="#111" stroke-width="0.1" textLength="56.5" lengthAdjust="spacingAndGlyphs">Shigella boydii</text>
<text x="30.00" y="389.76" font-size="5.45" text-anchor="start" font-weight="bold" font-style="normal" fill="#222" stroke="#222" stroke-width="0.1">Study ID</text>
<text x="108.30" y="389.76" font-size="5.45" text-anchor="end" font-weight="bold" font-style="normal" fill="#222" stroke="#222" stroke-width="0.1">Cases</text>
<text x="127.30" y="389.76" font-size="5.45" text-anchor="end" font-weight="bold" font-style="normal" fill="#222" stroke="#222" stroke-width="0.1">Total</text>
<text x="233.20" y="389.76" font-size="5.45" text-anchor="end" font-weight="bold" font-style="normal" fill="#222" stroke="#222" stroke-width="0.1">Prevalence</text>
<text x="264.10" y="389.76" font-size="5.45" text-anchor="end" font-weight="bold" font-style="normal" fill="#222" stroke="#222" stroke-width="0.1">95% CI</text>
<line x1="135.23" y1="398.00" x2="135.23" y2="468.70" stroke="#666" stroke-width="0.7" stroke-dasharray="1 1"/>
<text x="30.00" y="403.76" font-size="5.45" text-anchor="start" font-weight="normal" font-style="normal" fill="#222" stroke="#222" stroke-width="0.1">Bangladesh</text>
<text x="108.30" y="403.76" font-size="5.45" text-anchor="end" font-weight="normal" font-style="normal" fill="#222" stroke="#222" stroke-width="0.1">581</text>
<text x="127.30" y="403.76" font-size="5.45" text-anchor="end" font-weight="normal" font-style="normal" fill="#222" stroke="#222" stroke-width="0.1">2925</text>
<text x="233.20" y="403.76" font-size="5.45" text-anchor="end" font-weight="normal" font-style="normal" fill="#222" stroke="#222" stroke-width="0.1">19.9</text>
<text x="264.10" y="403.76" font-size="5.45" text-anchor="end" font-weight="normal" font-style="normal" fill="#222" stroke="#222" stroke-width="0.1" xml:space="preserve">[18.4; 21.4]</text>
<rect x="141.15" y="397.60" width="8.2" height="8.2" fill="#ee1620"/>
<line x1="144.21" y1="401.70" x2="146.29" y2="401.70" stroke="#fff" stroke-width="0.8"/>
<text x="30.00" y="410.82" font-size="5.45" text-anchor="start" font-weight="normal" font-style="normal" fill="#222" stroke="#222" stroke-width="0.1">China</text>
<text x="108.30" y="410.82" font-size="5.45" text-anchor="end" font-weight="normal" font-style="normal" fill="#222" stroke="#222" stroke-width="0.1">26</text>
<text x="127.30" y="410.82" font-size="5.45" text-anchor="end" font-weight="normal" font-style="normal" fill="#222" stroke="#222" stroke-width="0.1">4521</text>
<text x="233.20" y="410.82" font-size="5.45" text-anchor="end" font-weight="normal" font-style="normal" fill="#222" stroke="#222" stroke-width="0.1">0.6</text>
<text x="264.10" y="410.82" font-size="5.45" text-anchor="end" font-weight="normal" font-style="normal" fill="#222" stroke="#222" stroke-width="0.1" xml:space="preserve">[ 0.4;  0.8]</text>
<rect x="127.81" y="404.66" width="8.2" height="8.2" fill="#ee1620"/>
<line x1="131.21" y1="408.76" x2="132.61" y2="408.76" stroke="#fff" stroke-width="0.8"/>
<text x="30.00" y="417.88" font-size="5.45" text-anchor="start" font-weight="normal" font-style="normal" fill="#222" stroke="#222" stroke-width="0.1">India</text>
<text x="108.30" y="417.88" font-size="5.45" text-anchor="end" font-weight="normal" font-style="normal" fill="#222" stroke="#222" stroke-width="0.1">110</text>
<text x="127.30" y="417.88" font-size="5.45" text-anchor="end" font-weight="normal" font-style="normal" fill="#222" stroke="#222" stroke-width="0.1">1722</text>
<text x="233.20" y="417.88" font-size="5.45" text-anchor="end" font-weight="normal" font-style="normal" fill="#222" stroke="#222" stroke-width="0.1">6.4</text>
<text x="264.10" y="417.88" font-size="5.45" text-anchor="end" font-weight="normal" font-style="normal" fill="#222" stroke="#222" stroke-width="0.1" xml:space="preserve">[ 5.3;  7.6]</text>
<rect x="131.82" y="411.72" width="8.2" height="8.2" fill="#ee1620"/>
<line x1="135.16" y1="415.82" x2="136.75" y2="415.82" stroke="#fff" stroke-width="0.8"/>
<text x="30.00" y="424.94" font-size="5.45" text-anchor="start" font-weight="normal" font-style="normal" fill="#222" stroke="#222" stroke-width="0.1">Iran</text>
<text x="108.30" y="424.94" font-size="5.45" text-anchor="end" font-weight="normal" font-style="normal" fill="#222" stroke="#222" stroke-width="0.1">31</text>
<text x="127.30" y="424.94" font-size="5.45" text-anchor="end" font-weight="normal" font-style="normal" fill="#222" stroke="#222" stroke-width="0.1">1465</text>
<text x="233.20" y="424.94" font-size="5.45" text-anchor="end" font-weight="normal" font-style="normal" fill="#222" stroke="#222" stroke-width="0.1">2.1</text>
<text x="264.10" y="424.94" font-size="5.45" text-anchor="end" font-weight="normal" font-style="normal" fill="#222" stroke="#222" stroke-width="0.1" xml:space="preserve">[ 1.4;  3.0]</text>
<rect x="128.85" y="418.78" width="8.2" height="8.2" fill="#ee1620"/>
<line x1="132.25" y1="422.88" x2="133.65" y2="422.88" stroke="#fff" stroke-width="0.8"/>
<text x="30.00" y="432.00" font-size="5.45" text-anchor="start" font-weight="normal" font-style="normal" fill="#222" stroke="#222" stroke-width="0.1">Israel</text>
<text x="108.30" y="432.00" font-size="5.45" text-anchor="end" font-weight="normal" font-style="normal" fill="#222" stroke="#222" stroke-width="0.1">139</text>
<text x="127.30" y="432.00" font-size="5.45" text-anchor="end" font-weight="normal" font-style="normal" fill="#222" stroke="#222" stroke-width="0.1">3295</text>
<text x="233.20" y="432.00" font-size="5.45" text-anchor="end" font-weight="normal" font-style="normal" fill="#222" stroke="#222" stroke-width="0.1">4.2</text>
<text x="264.10" y="432.00" font-size="5.45" text-anchor="end" font-weight="normal" font-style="normal" fill="#222" stroke="#222" stroke-width="0.1" xml:space="preserve">[ 3.6;  5.0]</text>
<rect x="130.30" y="425.84" width="8.2" height="8.2" fill="#ee1620"/>
<line x1="133.70" y1="429.94" x2="135.10" y2="429.94" stroke="#fff" stroke-width="0.8"/>
<text x="30.00" y="439.06" font-size="5.45" text-anchor="start" font-weight="normal" font-style="normal" fill="#222" stroke="#222" stroke-width="0.1">Kuwait/U.A.E</text>
<text x="108.30" y="439.06" font-size="5.45" text-anchor="end" font-weight="normal" font-style="normal" fill="#222" stroke="#222" stroke-width="0.1">2</text>
<text x="127.30" y="439.06" font-size="5.45" text-anchor="end" font-weight="normal" font-style="normal" fill="#222" stroke="#222" stroke-width="0.1">142</text>
<text x="233.20" y="439.06" font-size="5.45" text-anchor="end" font-weight="normal" font-style="normal" fill="#222" stroke="#222" stroke-width="0.1">1.4</text>
<text x="264.10" y="439.06" font-size="5.45" text-anchor="end" font-weight="normal" font-style="normal" fill="#222" stroke="#222" stroke-width="0.1" xml:space="preserve">[ 0.2;  5.0]</text>
<rect x="128.37" y="432.90" width="8.2" height="8.2" fill="#ee1620"/>
<line x1="131.64" y1="437.00" x2="134.96" y2="437.00" stroke="#fff" stroke-width="0.8"/>
<text x="30.00" y="446.12" font-size="5.45" text-anchor="start" font-weight="normal" font-style="normal" fill="#222" stroke="#222" stroke-width="0.1">Nepal</text>
<text x="108.30" y="446.12" font-size="5.45" text-anchor="end" font-weight="normal" font-style="normal" fill="#222" stroke="#222" stroke-width="0.1">30</text>
<text x="127.30" y="446.12" font-size="5.45" text-anchor="end" font-weight="normal" font-style="normal" fill="#222" stroke="#222" stroke-width="0.1">426</text>
<text x="233.20" y="446.12" font-size="5.45" text-anchor="end" font-weight="normal" font-style="normal" fill="#222" stroke="#222" stroke-width="0.1">7.0</text>
<text x="264.10" y="446.12" font-size="5.45" text-anchor="end" font-weight="normal" font-style="normal" fill="#222" stroke="#222" stroke-width="0.1" xml:space="preserve">[ 4.8;  9.9]</text>
<rect x="132.24" y="439.96" width="8.2" height="8.2" fill="#ee1620"/>
<line x1="134.82" y1="444.06" x2="138.34" y2="444.06" stroke="#fff" stroke-width="0.8"/>
<text x="30.00" y="453.18" font-size="5.45" text-anchor="start" font-weight="normal" font-style="normal" fill="#222" stroke="#222" stroke-width="0.1">Turkey</text>
<text x="108.30" y="453.18" font-size="5.45" text-anchor="end" font-weight="normal" font-style="normal" fill="#222" stroke="#222" stroke-width="0.1">4</text>
<text x="127.30" y="453.18" font-size="5.45" text-anchor="end" font-weight="normal" font-style="normal" fill="#222" stroke="#222" stroke-width="0.1">238</text>
<text x="233.20" y="453.18" font-size="5.45" text-anchor="end" font-weight="normal" font-style="normal" fill="#222" stroke="#222" stroke-width="0.1">1.7</text>
<text x="264.10" y="453.18" font-size="5.45" text-anchor="end" font-weight="normal" font-style="normal" fill="#222" stroke="#222" stroke-width="0.1" xml:space="preserve">[ 0.5;  4.2]</text>
<rect x="128.57" y="447.02" width="8.2" height="8.2" fill="#ee1620"/>
<line x1="131.85" y1="451.12" x2="134.40" y2="451.12" stroke="#fff" stroke-width="0.8"/>
<polygon points="132.19,465.20 135.23,462.60 138.27,465.20 135.23,467.80" fill="#2b49ae" stroke="#16225c" stroke-width="0.5"/>
<text x="30.00" y="467.16" font-size="5.45" text-anchor="start" font-weight="bold" font-style="normal" fill="#222" stroke="#222" stroke-width="0.1">Random effects model</text>
<text x="127.30" y="467.16" font-size="5.45" text-anchor="end" font-weight="bold" font-style="normal" fill="#222" stroke="#222" stroke-width="0.1">14734</text>
<text x="233.20" y="467.16" font-size="5.45" text-anchor="end" font-weight="bold" font-style="normal" fill="#222" stroke="#222" stroke-width="0.1">5.4</text>
<text x="264.10" y="467.16" font-size="5.45" text-anchor="end" font-weight="bold" font-style="normal" fill="#222" stroke="#222" stroke-width="0.1" xml:space="preserve">[ 1.0;  9.8]</text>
<text x="30.00" y="474.06" font-size="4.9" fill="#2c2c2c" textLength="97.3" lengthAdjust="spacingAndGlyphs">Heterogeneity: <tspan font-style="italic">I</tspan><tspan font-size="3.2" dy="-1.6">2</tspan><tspan dy="1.6"> = 99%, τ</tspan><tspan font-size="3.2" dy="-1.6">2</tspan><tspan dy="1.6"> = 0.0038, </tspan><tspan font-style="italic">p</tspan> &lt; 0.01</text>
<path d="M131.50 471.90V468.70H200.60V471.90" fill="none" stroke="#222" stroke-width="0.6"/>
<text x="131.50" y="481.12" font-size="5.6" text-anchor="middle" font-weight="normal" font-style="normal" fill="#222" stroke="#222" stroke-width="0.1">0</text>
<line x1="145.32" y1="468.70" x2="145.32" y2="471.90" stroke="#222" stroke-width="0.6"/>
<text x="145.32" y="481.12" font-size="5.6" text-anchor="middle" font-weight="normal" font-style="normal" fill="#222" stroke="#222" stroke-width="0.1">20</text>
<line x1="159.14" y1="468.70" x2="159.14" y2="471.90" stroke="#222" stroke-width="0.6"/>
<text x="159.14" y="481.12" font-size="5.6" text-anchor="middle" font-weight="normal" font-style="normal" fill="#222" stroke="#222" stroke-width="0.1">40</text>
<line x1="172.96" y1="468.70" x2="172.96" y2="471.90" stroke="#222" stroke-width="0.6"/>
<text x="172.96" y="481.12" font-size="5.6" text-anchor="middle" font-weight="normal" font-style="normal" fill="#222" stroke="#222" stroke-width="0.1">60</text>
<line x1="186.78" y1="468.70" x2="186.78" y2="471.90" stroke="#222" stroke-width="0.6"/>
<text x="186.78" y="481.12" font-size="5.6" text-anchor="middle" font-weight="normal" font-style="normal" fill="#222" stroke="#222" stroke-width="0.1">80</text>
<text x="200.60" y="481.12" font-size="5.6" text-anchor="middle" font-weight="normal" font-style="normal" fill="#222" stroke="#222" stroke-width="0.1">100</text>
<text x="286.00" y="368.00" font-size="12.2" text-anchor="start" font-weight="normal" font-style="normal" fill="#111" stroke="#111" stroke-width="0.1">e</text>
<text x="310.10" y="368.00" font-size="10.4" text-anchor="start" font-weight="normal" font-style="italic" fill="#111" stroke="#111" stroke-width="0.1" textLength="78.2" lengthAdjust="spacingAndGlyphs">Shigella dysenteriae</text>
<text x="310.00" y="388.46" font-size="5.45" text-anchor="start" font-weight="bold" font-style="normal" fill="#222" stroke="#222" stroke-width="0.1">Study ID</text>
<text x="388.30" y="388.46" font-size="5.45" text-anchor="end" font-weight="bold" font-style="normal" fill="#222" stroke="#222" stroke-width="0.1">Cases</text>
<text x="407.30" y="388.46" font-size="5.45" text-anchor="end" font-weight="bold" font-style="normal" fill="#222" stroke="#222" stroke-width="0.1">Total</text>
<text x="513.10" y="388.46" font-size="5.45" text-anchor="end" font-weight="bold" font-style="normal" fill="#222" stroke="#222" stroke-width="0.1">Prevalence</text>
<text x="544.10" y="388.46" font-size="5.45" text-anchor="end" font-weight="bold" font-style="normal" fill="#222" stroke="#222" stroke-width="0.1">95% CI</text>
<line x1="416.05" y1="396.00" x2="416.05" y2="460.10" stroke="#666" stroke-width="0.7" stroke-dasharray="1 1"/>
<text x="310.00" y="402.46" font-size="5.45" text-anchor="start" font-weight="normal" font-style="normal" fill="#222" stroke="#222" stroke-width="0.1">Bangladesh</text>
<text x="388.30" y="402.46" font-size="5.45" text-anchor="end" font-weight="normal" font-style="normal" fill="#222" stroke="#222" stroke-width="0.1">213</text>
<text x="407.30" y="402.46" font-size="5.45" text-anchor="end" font-weight="normal" font-style="normal" fill="#222" stroke="#222" stroke-width="0.1">2925</text>
<text x="513.10" y="402.46" font-size="5.45" text-anchor="end" font-weight="normal" font-style="normal" fill="#222" stroke="#222" stroke-width="0.1">7.3</text>
<text x="544.10" y="402.46" font-size="5.45" text-anchor="end" font-weight="normal" font-style="normal" fill="#222" stroke="#222" stroke-width="0.1" xml:space="preserve">[ 6.4;  8.3]</text>
<rect x="412.39" y="396.15" width="8.3" height="8.3" fill="#ee1620"/>
<line x1="415.84" y1="400.30" x2="417.24" y2="400.30" stroke="#fff" stroke-width="0.8"/>
<text x="310.00" y="409.54" font-size="5.45" text-anchor="start" font-weight="normal" font-style="normal" fill="#222" stroke="#222" stroke-width="0.1">China</text>
<text x="388.30" y="409.54" font-size="5.45" text-anchor="end" font-weight="normal" font-style="normal" fill="#222" stroke="#222" stroke-width="0.1">20</text>
<text x="407.30" y="409.54" font-size="5.45" text-anchor="end" font-weight="normal" font-style="normal" fill="#222" stroke="#222" stroke-width="0.1">2883</text>
<text x="513.10" y="409.54" font-size="5.45" text-anchor="end" font-weight="normal" font-style="normal" fill="#222" stroke="#222" stroke-width="0.1">0.7</text>
<text x="544.10" y="409.54" font-size="5.45" text-anchor="end" font-weight="normal" font-style="normal" fill="#222" stroke="#222" stroke-width="0.1" xml:space="preserve">[ 0.4;  1.1]</text>
<rect x="407.83" y="403.23" width="8.3" height="8.3" fill="#ee1620"/>
<line x1="411.28" y1="407.38" x2="412.68" y2="407.38" stroke="#fff" stroke-width="0.8"/>
<text x="310.00" y="416.62" font-size="5.45" text-anchor="start" font-weight="normal" font-style="normal" fill="#222" stroke="#222" stroke-width="0.1">India</text>
<text x="388.30" y="416.62" font-size="5.45" text-anchor="end" font-weight="normal" font-style="normal" fill="#222" stroke="#222" stroke-width="0.1">146</text>
<text x="407.30" y="416.62" font-size="5.45" text-anchor="end" font-weight="normal" font-style="normal" fill="#222" stroke="#222" stroke-width="0.1">1886</text>
<text x="513.10" y="416.62" font-size="5.45" text-anchor="end" font-weight="normal" font-style="normal" fill="#222" stroke="#222" stroke-width="0.1">7.7</text>
<text x="544.10" y="416.62" font-size="5.45" text-anchor="end" font-weight="normal" font-style="normal" fill="#222" stroke="#222" stroke-width="0.1" xml:space="preserve">[ 6.6;  9.0]</text>
<rect x="412.66" y="410.31" width="8.3" height="8.3" fill="#ee1620"/>
<line x1="416.05" y1="414.46" x2="417.71" y2="414.46" stroke="#fff" stroke-width="0.8"/>
<text x="310.00" y="423.70" font-size="5.45" text-anchor="start" font-weight="normal" font-style="normal" fill="#222" stroke="#222" stroke-width="0.1">Iran</text>
<text x="388.30" y="423.70" font-size="5.45" text-anchor="end" font-weight="normal" font-style="normal" fill="#222" stroke="#222" stroke-width="0.1">13</text>
<text x="407.30" y="423.70" font-size="5.45" text-anchor="end" font-weight="normal" font-style="normal" fill="#222" stroke="#222" stroke-width="0.1">928</text>
<text x="513.10" y="423.70" font-size="5.45" text-anchor="end" font-weight="normal" font-style="normal" fill="#222" stroke="#222" stroke-width="0.1">1.4</text>
<text x="544.10" y="423.70" font-size="5.45" text-anchor="end" font-weight="normal" font-style="normal" fill="#222" stroke="#222" stroke-width="0.1" xml:space="preserve">[ 0.7;  2.4]</text>
<rect x="408.32" y="417.39" width="8.3" height="8.3" fill="#ee1620"/>
<line x1="411.77" y1="421.54" x2="413.17" y2="421.54" stroke="#fff" stroke-width="0.8"/>
<text x="310.00" y="430.78" font-size="5.45" text-anchor="start" font-weight="normal" font-style="normal" fill="#222" stroke="#222" stroke-width="0.1">Israel</text>
<text x="388.30" y="430.78" font-size="5.45" text-anchor="end" font-weight="normal" font-style="normal" fill="#222" stroke="#222" stroke-width="0.1">41</text>
<text x="407.30" y="430.78" font-size="5.45" text-anchor="end" font-weight="normal" font-style="normal" fill="#222" stroke="#222" stroke-width="0.1">3295</text>
<text x="513.10" y="430.78" font-size="5.45" text-anchor="end" font-weight="normal" font-style="normal" fill="#222" stroke="#222" stroke-width="0.1">1.2</text>
<text x="544.10" y="430.78" font-size="5.45" text-anchor="end" font-weight="normal" font-style="normal" fill="#222" stroke="#222" stroke-width="0.1" xml:space="preserve">[ 0.9;  1.7]</text>
<rect x="408.18" y="424.47" width="8.3" height="8.3" fill="#ee1620"/>
<line x1="411.63" y1="428.62" x2="413.03" y2="428.62" stroke="#fff" stroke-width="0.8"/>
<text x="310.00" y="437.86" font-size="5.45" text-anchor="start" font-weight="normal" font-style="normal" fill="#222" stroke="#222" stroke-width="0.1">Kuwait/U.A.E</text>
<text x="388.30" y="437.86" font-size="5.45" text-anchor="end" font-weight="normal" font-style="normal" fill="#222" stroke="#222" stroke-width="0.1">2</text>
<text x="407.30" y="437.86" font-size="5.45" text-anchor="end" font-weight="normal" font-style="normal" fill="#222" stroke="#222" stroke-width="0.1">142</text>
<text x="513.10" y="437.86" font-size="5.45" text-anchor="end" font-weight="normal" font-style="normal" fill="#222" stroke="#222" stroke-width="0.1">1.4</text>
<text x="544.10" y="437.86" font-size="5.45" text-anchor="end" font-weight="normal" font-style="normal" fill="#222" stroke="#222" stroke-width="0.1" xml:space="preserve">[ 0.2;  5.0]</text>
<rect x="408.32" y="431.55" width="8.3" height="8.3" fill="#ee1620"/>
<line x1="411.64" y1="435.70" x2="414.95" y2="435.70" stroke="#fff" stroke-width="0.8"/>
<text x="310.00" y="444.94" font-size="5.45" text-anchor="start" font-weight="normal" font-style="normal" fill="#222" stroke="#222" stroke-width="0.1">Nepal</text>
<text x="388.30" y="444.94" font-size="5.45" text-anchor="end" font-weight="normal" font-style="normal" fill="#222" stroke="#222" stroke-width="0.1">116</text>
<text x="407.30" y="444.94" font-size="5.45" text-anchor="end" font-weight="normal" font-style="normal" fill="#222" stroke="#222" stroke-width="0.1">426</text>
<text x="513.10" y="444.94" font-size="5.45" text-anchor="end" font-weight="normal" font-style="normal" fill="#222" stroke="#222" stroke-width="0.1">27.2</text>
<text x="544.10" y="444.94" font-size="5.45" text-anchor="end" font-weight="normal" font-style="normal" fill="#222" stroke="#222" stroke-width="0.1" xml:space="preserve">[23.1; 31.7]</text>
<rect x="426.12" y="438.63" width="8.3" height="8.3" fill="#ee1620"/>
<line x1="427.44" y1="442.78" x2="433.37" y2="442.78" stroke="#fff" stroke-width="0.8"/>
<polygon points="411.50,456.60 416.05,454.00 420.75,456.60 416.05,459.20" fill="#2b49ae" stroke="#16225c" stroke-width="0.5"/>
<text x="310.00" y="458.56" font-size="5.45" text-anchor="start" font-weight="bold" font-style="normal" fill="#222" stroke="#222" stroke-width="0.1">Random effects model</text>
<text x="407.30" y="458.56" font-size="5.45" text-anchor="end" font-weight="bold" font-style="normal" fill="#222" stroke="#222" stroke-width="0.1">12485</text>
<text x="513.10" y="458.56" font-size="5.45" text-anchor="end" font-weight="bold" font-style="normal" fill="#222" stroke="#222" stroke-width="0.1">6.6</text>
<text x="544.10" y="458.56" font-size="5.45" text-anchor="end" font-weight="bold" font-style="normal" fill="#222" stroke="#222" stroke-width="0.1" xml:space="preserve">[ 0.0; 13.4]</text>
<text x="310.00" y="465.66" font-size="4.9" fill="#2c2c2c" textLength="98.5" lengthAdjust="spacingAndGlyphs">Heterogeneity: <tspan font-style="italic">I</tspan><tspan font-size="3.2" dy="-1.6">2</tspan><tspan dy="1.6"> = 99%, τ</tspan><tspan font-size="3.2" dy="-1.6">2</tspan><tspan dy="1.6"> = 0.0084, </tspan><tspan font-style="italic">p</tspan> &lt; 0.01</text>
<path d="M411.50 463.30V460.10H480.50V463.30" fill="none" stroke="#222" stroke-width="0.6"/>
<text x="411.50" y="472.56" font-size="6.0" text-anchor="middle" font-weight="normal" font-style="normal" fill="#222" stroke="#222" stroke-width="0.1">0</text>
<line x1="425.30" y1="460.10" x2="425.30" y2="463.30" stroke="#222" stroke-width="0.6"/>
<text x="425.30" y="472.56" font-size="6.0" text-anchor="middle" font-weight="normal" font-style="normal" fill="#222" stroke="#222" stroke-width="0.1">20</text>
<line x1="439.10" y1="460.10" x2="439.10" y2="463.30" stroke="#222" stroke-width="0.6"/>
<text x="439.10" y="472.56" font-size="6.0" text-anchor="middle" font-weight="normal" font-style="normal" fill="#222" stroke="#222" stroke-width="0.1">40</text>
<line x1="452.90" y1="460.10" x2="452.90" y2="463.30" stroke="#222" stroke-width="0.6"/>
<text x="452.90" y="472.56" font-size="6.0" text-anchor="middle" font-weight="normal" font-style="normal" fill="#222" stroke="#222" stroke-width="0.1">60</text>
<line x1="466.70" y1="460.10" x2="466.70" y2="463.30" stroke="#222" stroke-width="0.6"/>
<text x="466.70" y="472.56" font-size="6.0" text-anchor="middle" font-weight="normal" font-style="normal" fill="#222" stroke="#222" stroke-width="0.1">80</text>
<text x="480.50" y="472.56" font-size="6.0" text-anchor="middle" font-weight="normal" font-style="normal" fill="#222" stroke="#222" stroke-width="0.1">100</text>
</svg>
</body></html>
